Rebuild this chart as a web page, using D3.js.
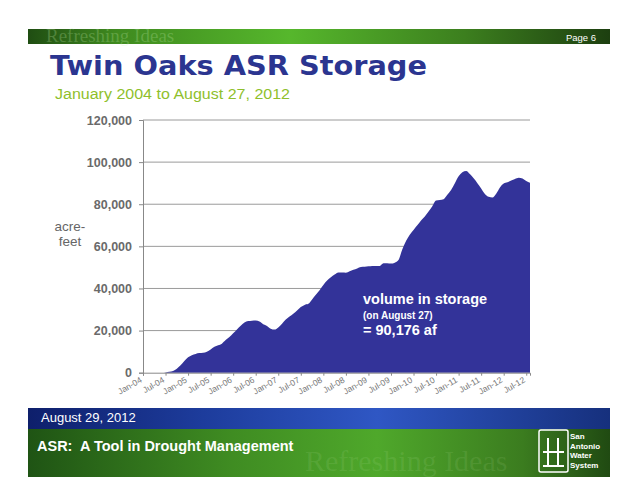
<!DOCTYPE html>
<html><head><meta charset="utf-8">
<script src="https://cdn.jsdelivr.net/npm/d3@7"></script>
<style>html,body{margin:0;padding:0;background:#fff;}svg{display:block;}</style>
</head><body>
<svg id="c" width="638" height="493"></svg>
<script>
// ---- data ----
const startMonth = "Jan-04";
const storage = [
  0,0,0,0,0,0,100,400,800,1900,3500,5500,
  7300,8300,8900,9300,9500,10000,11000,12300,13000,13800,15500,16900,
  18700,20500,22300,23800,24500,24700,24800,24300,23000,22200,20900,20500,
  21500,23300,25300,26700,28000,29500,31200,32200,32700,34800,37000,39200,
  41700,43800,45300,46600,47600,47600,47500,48200,48900,49500,50200,50300,
  50500,50700,50700,50700,52000,52000,51800,52200,53500,58500,62500,65500,
  67800,70000,72300,74200,76500,79000,81800,82000,82400,84500,86800,90000,
  93300,95200,95800,94300,92300,90000,87500,84900,83500,83200,85000,88000,
  89800,90400,91300,92000,92600,92200,91000,90176
];
const xTickLabels = ["Jan-04","Jul-04","Jan-05","Jul-05","Jan-06","Jul-06","Jan-07","Jul-07","Jan-08","Jul-08","Jan-09","Jul-09","Jan-10","Jul-10","Jan-11","Jul-11","Jan-12","Jul-12"];
const yTicks = [0,20000,40000,60000,80000,100000,120000];
const title = "Twin Oaks ASR Storage";
const subtitle = "January 2004 to August 27, 2012";
const annotation = ["volume in storage","(on August 27)","= 90,176 af"];
const logoText = ["San","Antonio","Water","System"];

const svg = d3.select("#c");
const defs = svg.append("defs");

// ---- banners ----
const gTop = defs.append("linearGradient").attr("id","gTop");
[["0%","#1f4d12"],["15%","#3f8a1f"],["45%","#56b72c"],["75%","#3c7f1e"],["100%","#1d3f10"]].forEach(s=>gTop.append("stop").attr("offset",s[0]).attr("stop-color",s[1]));
svg.append("rect").attr("x",28).attr("y",29).attr("width",582).attr("height",15).attr("fill","url(#gTop)");
svg.append("text").attr("x",46).attr("y",42).attr("font-family","Liberation Serif, serif").attr("font-size",19)
  .attr("fill","#c8f0b0").attr("fill-opacity",0.25).text("Refreshing Ideas");
svg.append("text").attr("x",596).attr("y",40.5).attr("text-anchor","end").attr("font-family","Liberation Sans, Arial, sans-serif")
  .attr("font-size",9.5).attr("fill","#fff").text("Page 6");

const gBlue = defs.append("linearGradient").attr("id","gBlue");
[["0%","#0e1f6b"],["30%","#1d3c9c"],["60%","#2f57c4"],["100%","#16307d"]].forEach(s=>gBlue.append("stop").attr("offset",s[0]).attr("stop-color",s[1]));
const gGreen = defs.append("linearGradient").attr("id","gGreen").attr("x2","1").attr("y2","0");
[["0%","#1f5414"],["35%","#3f8c22"],["60%","#4fa82b"],["85%","#3b7c1f"],["100%","#204a12"]].forEach(s=>gGreen.append("stop").attr("offset",s[0]).attr("stop-color",s[1]));
svg.append("rect").attr("x",28).attr("y",408).attr("width",582).attr("height",21).attr("fill","url(#gBlue)");
svg.append("rect").attr("x",28).attr("y",429).attr("width",582).attr("height",48).attr("fill","url(#gGreen)");
svg.append("text").attr("x",305).attr("y",471).attr("font-family","Liberation Serif, serif").attr("font-size",30)
  .attr("fill","#d8f5c0").attr("fill-opacity",0.1).text("Refreshing Ideas");
svg.append("text").attr("x",41).attr("y",422).attr("font-family","Liberation Sans, Arial, sans-serif")
  .attr("font-size",13).attr("fill","#fff").text("August 29, 2012");
svg.append("text").attr("x",37).attr("y",451).attr("font-family","Liberation Sans, Arial, sans-serif")
  .attr("font-size",14.5).attr("font-weight","bold").attr("fill","#fff").attr("xml:space","preserve").text("ASR:  A Tool in Drought Management");
// logo
svg.append("rect").attr("x",539).attr("y",430).attr("width",29).attr("height",42).attr("fill","none").attr("stroke","#fff").attr("stroke-width",1.5).attr("rx",2);
svg.append("path").attr("d","M543,452 h21 M548,438 v28 M558,438 v28 M543,466 h21").attr("stroke","#fff").attr("stroke-width",2).attr("fill","none");
logoText.forEach((t,i)=>svg.append("text").attr("x",570).attr("y",439+i*9.5).attr("font-family","Liberation Sans Narrow, Liberation Sans, sans-serif")
  .attr("font-size",8).attr("font-weight","bold").attr("fill","#fff").text(t));

// ---- titles ----
svg.append("text").attr("x",50).attr("y",75).attr("font-family","DejaVu Sans, sans-serif").attr("font-weight","bold")
  .attr("font-size",26).attr("fill","#2b3590").attr("textLength",377).attr("lengthAdjust","spacingAndGlyphs").text(title);
svg.append("text").attr("x",55).attr("y",99).attr("font-family","Liberation Sans, Arial, sans-serif")
  .attr("font-size",15.5).attr("fill","#8fbf2c").attr("textLength",235).attr("lengthAdjust","spacingAndGlyphs").text(subtitle);

// ---- chart ----
const x = d3.scaleLinear().domain([0, storage.length-1]).range([143, 530]);
const y = d3.scaleLinear().domain([0, 120000]).range([372.7, 120]);

// gridlines
svg.append("g").selectAll("line").data(yTicks.filter(d=>d>0)).join("line")
  .attr("x1",143).attr("x2",530).attr("y1",d=>y(d)).attr("y2",d=>y(d)).attr("stroke","#9a9a9a").attr("stroke-width",1);

// area
const area = d3.area().x((d,i)=>x(i)).y0(y(0)).y1(d=>y(d)).curve(d3.curveMonotoneX);
svg.append("path").datum(storage).attr("d",area).attr("fill","#333399");

// y axis
const yAxis = d3.axisLeft(y).tickValues(yTicks).tickSize(4).tickFormat(d3.format(","));
const ya = svg.append("g").attr("transform","translate(143,0)").call(yAxis);
ya.select(".domain").attr("stroke","#888");
ya.selectAll(".tick line").attr("stroke","#888");
ya.selectAll("text").attr("x",-11).attr("font-family","Liberation Sans, Arial, sans-serif").attr("font-size",12.5)
  .attr("font-weight","bold").attr("fill","#6a6a6a");

// x axis
const xTickVals = xTickLabels.map((d,i)=>i*6);
const xAxis = d3.axisBottom(x).tickValues(xTickVals).tickSize(3).tickFormat((d,i)=>xTickLabels[i]);
const xa = svg.append("g").attr("transform",`translate(0,${y(0)})`).call(xAxis);
xa.select(".domain").attr("stroke","#888");
xa.selectAll(".tick line").attr("stroke","#888");
xa.selectAll("text").attr("font-family","Liberation Sans, Arial, sans-serif").attr("font-size",8.5).attr("fill","#777")
  .attr("text-anchor","end").attr("dy",0).attr("y",0).attr("transform","translate(-1,9) rotate(-30)");

// y-axis title
svg.append("text").attr("x",70).attr("y",231).attr("text-anchor","middle").attr("font-family","Liberation Sans, Arial, sans-serif")
  .attr("font-size",13.5).attr("fill","#666").text("acre-");
svg.append("text").attr("x",70).attr("y",246).attr("text-anchor","middle").attr("font-family","Liberation Sans, Arial, sans-serif")
  .attr("font-size",13.5).attr("fill","#666").text("feet");

// annotation
const ann = svg.append("g").attr("font-family","Liberation Sans, Arial, sans-serif").attr("font-weight","bold").attr("fill","#fff");
ann.append("text").attr("x",363).attr("y",304).attr("font-size",14.5).text(annotation[0]);
ann.append("text").attr("x",363).attr("y",319).attr("font-size",10).text(annotation[1]);
ann.append("text").attr("x",363).attr("y",335).attr("font-size",14.5).text(annotation[2]);
</script>
</body></html>
